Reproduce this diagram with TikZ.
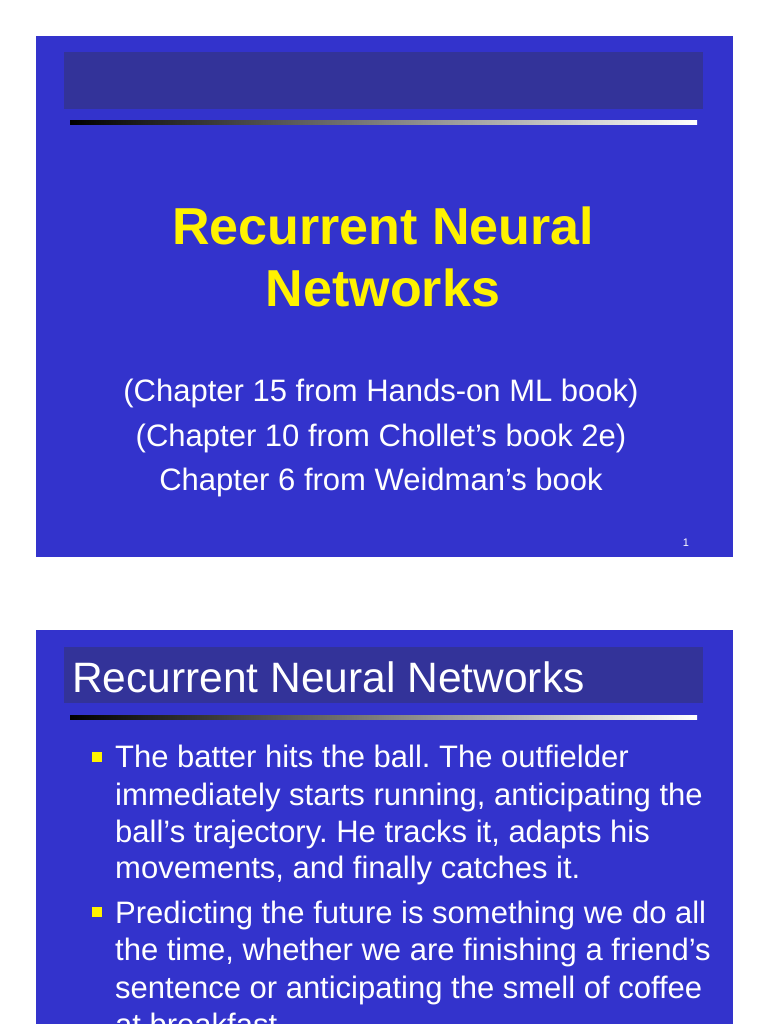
\documentclass[tikz,border=0pt]{standalone}
\usepackage{fontspec}
\setmainfont{Liberation Sans}
\definecolor{slide}{HTML}{3333CC}
\definecolor{bar}{HTML}{333399}
\tikzset{x=1pt,y=-1pt,
 sub/.style={text=white,font=\fontsize{31}{31}\selectfont,anchor=base},
 body/.style={text=white,font=\fontsize{31}{37}\selectfont,anchor=base west},
 bul/.style={fill=yellow,minimum size=10pt,inner sep=0pt}}
\begin{document}
\frenchspacing
\begin{tikzpicture}
\useasboundingbox (0,0) rectangle (768,1024);
\fill[white] (0,0) rectangle (768,1024);
% slide 1
\fill[slide] (36,36) rectangle (733,557);
\fill[bar] (64,52) rectangle (703,109);
\shade[left color=black,right color=white] (70,121) rectangle (697,125);
\node[text=yellow,font=\bfseries\fontsize{52}{62}\selectfont,anchor=base] (t1) at (383,244) {Recurrent Neural};
\node[text=yellow,font=\bfseries\fontsize{52}{62}\selectfont,anchor=base] (t2) at (383,306) {Networks};
\node[sub] (s1) at (381,401) {(Chapter 15 from Hands-on ML book)};
\node[sub] (s2) at (381,446) {(Chapter 10 from Chollet’s book 2e)};
\node[sub] (s3) at (381,490) {Chapter 6 from Weidman’s book};
\node[text=white,font=\fontsize{11}{11}\selectfont,anchor=base] (pn) at (686,546) {1};
% slide 2
\fill[slide] (36,630) rectangle (733,1030);
\fill[bar] (64,647) rectangle (703,703);
\shade[left color=black,right color=white] (70,715) rectangle (697,719);
\node[text=white,font=\fontsize{42.5}{50}\selectfont,anchor=base west,inner sep=0pt] (h2) at (72,692) {Recurrent Neural Networks};
\node[bul] (b1) at (97,757) {};
\node[body,inner sep=0pt] (p1a) at (115,767) {The batter hits the ball. The outfielder};
\node[body,inner sep=0pt] (p1b) at (115,805) {immediately starts running, anticipating the};
\node[body,inner sep=0pt] (p1c) at (115,842) {ball’s trajectory. He tracks it, adapts his};
\node[body,inner sep=0pt] (p1d) at (115,878) {movements, and finally catches it.};
\node[bul] (b2) at (97,912) {};
\node[body,inner sep=0pt] (p2a) at (115,923) {Predicting the future is something we do all};
\node[body,inner sep=0pt] (p2b) at (115,960) {the time, whether we are finishing a friend’s};
\node[body,inner sep=0pt] (p2c) at (115,998) {sentence or anticipating the smell of coffee};
\node[body,inner sep=0pt] (p2d) at (115,1035) {at breakfast.};
\end{tikzpicture}
\end{document}
